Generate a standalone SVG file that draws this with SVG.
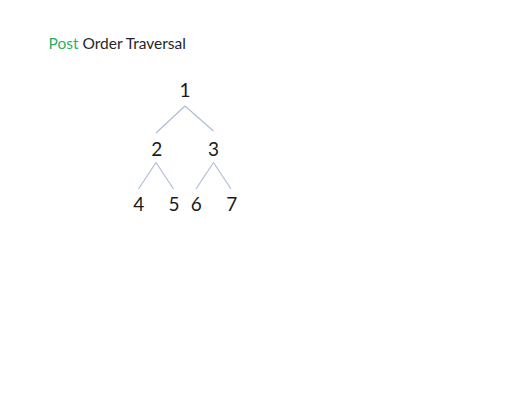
<svg xmlns="http://www.w3.org/2000/svg" width="520" height="400" viewBox="0 0 520 400">
<style>
.t{font-family:Lato,"Open Sans","Liberation Sans",sans-serif;font-size:15.5px;fill:#262626}
.g{fill:#2fae62}
.n{font-family:Lato,"Open Sans","Liberation Sans",sans-serif;font-size:19px;fill:#1a1a1a;text-anchor:middle}
.e{stroke:#a9bcd6;stroke-width:1.1;fill:none}
</style>
<rect width="520" height="400" fill="#ffffff"/>
<text class="t" x="48.5" y="48.5"><tspan class="g">Post</tspan> Order Traversal</text>
<g id="edges">
<line class="e" x1="185" y1="106" x2="156" y2="133"/>
<line class="e" x1="185" y1="106" x2="213.5" y2="131"/>
<line class="e" x1="156" y1="162.5" x2="138.5" y2="189"/>
<line class="e" x1="156" y1="162.5" x2="173.5" y2="189"/>
<line class="e" x1="213.5" y1="162.5" x2="196" y2="189"/>
<line class="e" x1="213.5" y1="162.5" x2="231" y2="189"/>
</g>
<g id="n1"><text class="n" x="185" y="97">1</text></g>
<g id="n2"><text class="n" x="156.7" y="155.5">2</text></g>
<g id="n3"><text class="n" x="213.5" y="155.5">3</text></g>
<g id="n4"><text class="n" x="138.7" y="211">4</text></g>
<g id="n5"><text class="n" x="174" y="211">5</text></g>
<g id="n6"><text class="n" x="196.2" y="211">6</text></g>
<g id="n7"><text class="n" x="231.7" y="211">7</text></g>
</svg>
